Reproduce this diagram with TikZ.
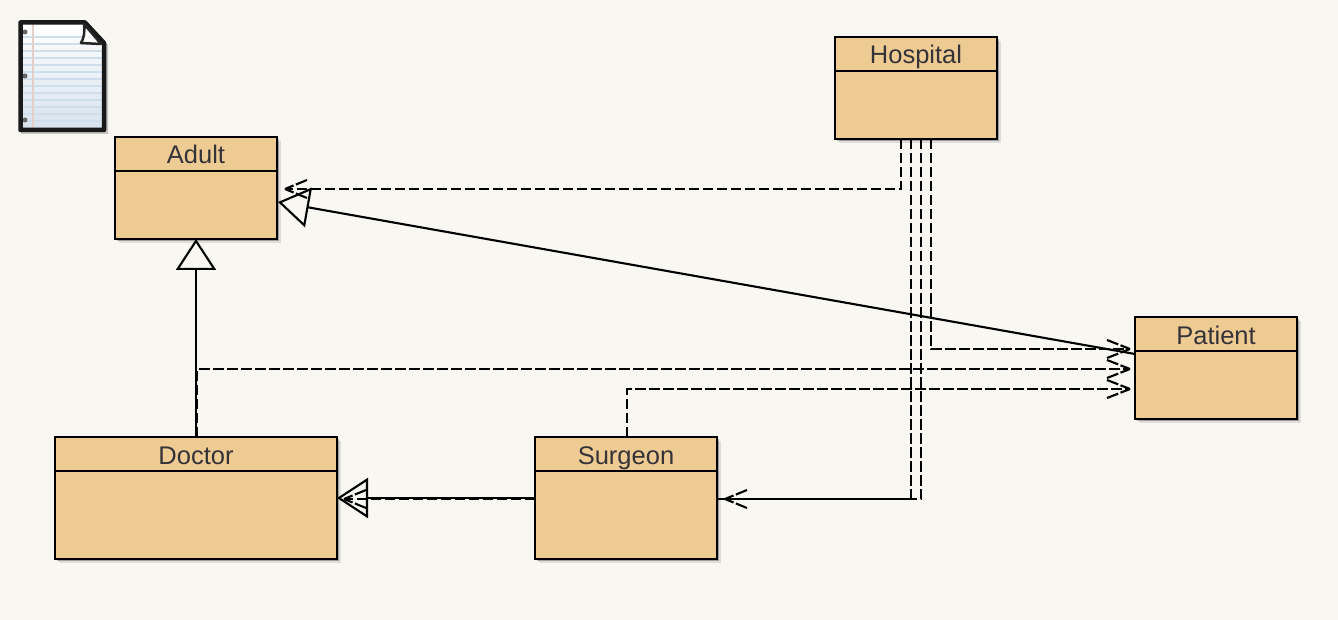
\documentclass[tikz,border=0pt]{standalone}
\usepackage{fontspec}
\setmainfont{Liberation Sans}
\usetikzlibrary{positioning,arrows.meta,shadows}
\definecolor{pagebg}{RGB}{248,247,242}
\definecolor{classfill}{RGB}{239,203,148}
\definecolor{classtext}{RGB}{51,51,56}
\definecolor{ruleblue}{RGB}{208,221,234}
\definecolor{marginred}{RGB}{226,208,200}

\begin{document}
\begin{tikzpicture}[x=1pt, y=-1pt, >=stealth, line width=2.1pt,
    classbody/.style={draw=black, fill=classfill, outer sep=0pt, inner sep=0pt,
                 drop shadow={shadow xshift=4pt, shadow yshift=-4pt, fill=black, opacity=.10},
                 drop shadow={shadow xshift=2pt, shadow yshift=-2pt, fill=black, opacity=.28}},
    classname/.style={draw=black, fill=classfill, outer sep=0pt, inner sep=0pt,
                 anchor=north, minimum height=34pt, text height=20pt, text depth=0pt,
                 text=classtext, font=\fontsize{25.5}{30}\selectfont},
    depline/.style={draw=black, dash pattern=on 10.5pt off 3.5pt},
    depbarb/.style={draw=black, dash pattern=on 12pt off 2.5pt},
    genline/.style={draw=black, -{Triangle[open, length=31pt, width=40pt]}}]

  \useasboundingbox[fill=pagebg] (0,0) rectangle (1338,620);

  % ---- the sheet of paper, top left
  \fill[black, opacity=.2] (21,24) -- (87,24) -- (108,45) -- (108,134) -- (21,134) -- cycle;
  \shade[top color=white, bottom color=ruleblue!85!white]
    (20,22) -- (85,22) -- (105,43) -- (105,130) -- (20,130) -- cycle;
  \foreach \y in {37,44,...,128}
    \draw[ruleblue, line width=1.2pt] (23,\y) -- (102,\y);
  \draw[marginred, line width=1.2pt] (33,24) -- (33,128);
  \foreach \y in {32,76,120}
    \fill[black!60] (25,\y) circle (2.5pt);
  \draw[black!90, line width=4.5pt, line join=round]
    (20.5,22.5) -- (85,22.5) -- (104,43) -- (104,130) -- (20.5,130) -- cycle;
  \draw[black!85, fill=white, line width=2.5pt, line join=round]
    (84,24) .. controls (85,32) and (84,38) .. (81,43) -- (101,44) -- cycle;

  % ---- the five classes
  \node[classbody, minimum width=162pt, minimum height=102pt] (adult) at (196,188) {};
  \node[classname, minimum width=162pt] (adultname) at (adult.north) {Adult};
  \node[classbody, minimum width=162pt, minimum height=102pt] (hospital) at (916,88) {};
  \node[classname, minimum width=162pt] (hospitalname) at (hospital.north) {Hospital};
  \node[classbody, minimum width=162pt, minimum height=102pt] (patient) at (1216,368) {};
  \node[classname, minimum width=162pt] (patientname) at (patient.north) {Patient};
  \node[classbody, minimum width=282pt, minimum height=122pt] (doctor) at (196,498) {};
  \node[classname, minimum width=282pt] (doctorname) at (doctor.north) {Doctor};
  \node[classbody, minimum width=182pt, minimum height=122pt] (surgeon) at (626,498) {};
  \node[classname, minimum width=182pt] (surgeonname) at (surgeon.north) {Surgeon};

  % ---- where the open heads end
  \coordinate (adulttip) at ([xshift=8pt,yshift=-1pt]adult.east);
  \coordinate (doctortip) at ([xshift=7pt,yshift=-1pt]doctor.east);
  \coordinate (surgeontip) at ([xshift=8pt,yshift=-1pt]surgeon.east);
  \coordinate (patienttop) at ([xshift=-5pt,yshift=19pt]patient.west);
  \coordinate (patientmid) at ([xshift=-5pt,yshift=-1pt]patient.west);
  \coordinate (patientlow) at ([xshift=-5pt,yshift=-21pt]patient.west);

  % ---- inheritance
  \draw[genline] (doctor.north) -- (adult.south);
  \draw[genline] ([yshift=14pt]patient.west) -- ([xshift=1pt,yshift=-14pt]adult.east);
  \draw[genline] (surgeon.west) -- (doctor.east);

  % ---- dependencies, with their heads
  \draw[depline] ([xshift=-15pt]hospital.south) |- (adulttip);
  \draw[depline] ([xshift=15pt]hospital.south) |- (patienttop);
  \draw[depline] ([xshift=-5pt]hospital.south) |- ([yshift=-1pt]surgeon.east);
  \draw[depline] ([xshift=5pt]hospital.south) |- ([yshift=-1pt]surgeon.east);
  \draw[depline] ([xshift=1pt]doctor.north) |- (patientmid);
  \draw[depline] ([xshift=1pt]surgeon.north) |- (patientlow);
  \draw[depline] ([yshift=-1pt]surgeon.west) -- (doctortip);
  \foreach \tip in {adulttip,doctortip,surgeontip}
    \draw[depbarb] ([shift={(22,-9)}]\tip) -- (\tip) ([shift={(22,9)}]\tip) -- (\tip);
  \foreach \tip in {patienttop,patientmid,patientlow}
    \draw[depbarb] ([shift={(-23,-9)}]\tip) -- (\tip) ([shift={(-23,9)}]\tip) -- (\tip);
\end{tikzpicture}
\end{document}
